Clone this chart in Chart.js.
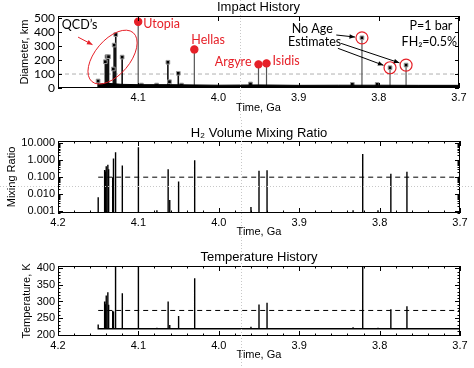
<!DOCTYPE html>
<html>
<head>
<meta charset="utf-8">
<script src="https://cdn.jsdelivr.net/npm/chart.js@4.4.1/dist/chart.umd.min.js"></script>
<style>
body { margin: 0; background: #fff; }
canvas { display: block; }
</style>
</head>
<body>
<canvas id="impactChart" width="474" height="120"></canvas>
<canvas id="mixChart" width="474" height="125"></canvas>
<canvas id="tempChart" width="474" height="123"></canvas>
<script>
// Time axis, Ga (old on the left)
var timeTicks = [4.2, 4.1, 4.0, 3.9, 3.8, 3.7];

// Impact history: dated craters (black squares)
var craterTimes = [4.150, 4.141, 4.139, 4.137, 4.131, 4.130, 4.128, 4.120, 4.096, 4.077, 4.063, 4.061, 4.050, 4.046, 3.960, 3.833, 3.802];
var craterDiam  = [50, 188, 224, 224, 136, 307, 382, 221, 21, 21, 184, 45, 105, 21, 29, 26, 26];
// named basins (red dots)
var basinNames = ["Utopia", "Hellas", "Argyre", "Isidis"];
var basinTimes = [4.100, 4.030, 3.950, 3.940];
var basinDiam  = [474, 276, 169, 176];
// basins with no age estimate
var undatedTimes = [3.821, 3.786, 3.766];
var undatedDiam  = [359, 145, 164];
// the dense floor of small craters
var floorTimes = [4.150, 4.140, 4.120, 4.100, 4.060, 4.000, 3.950, 3.900, 3.850, 3.800, 3.750, 3.700];
var floorDiam  = [26, 34, 26, 24, 24, 20, 22, 19, 20, 20, 19, 19];
var diamLimit = 100;
var diamTicks = [0, 100, 200, 300, 400, 500];

// H2 volume mixing ratio spikes
var mixTimes = [4.150, 4.142, 4.141, 4.140, 4.138, 4.137, 4.132, 4.131, 4.129, 4.128, 4.120, 4.100, 4.077, 4.063, 4.061, 4.050, 4.030, 3.960, 3.950, 3.940, 3.833, 3.821, 3.802, 3.786, 3.766];
var mixPeaks = [0.0065, 0.27, 0.22, 0.45, 0.55, 0.3, 0.1, 1.3, 2.2, 3.0, 0.5, 6.0, 0.0011, 0.3, 0.0045, 0.055, 1.0, 0.0017, 0.24, 0.26, 0.0011, 2.4, 0.0011, 0.16, 0.21];
var mixLimit = 0.1;
var mixTicks = [0.001, 0.01, 0.1, 1, 10];

// surface temperature spikes, K
var tempTimes = [4.150, 4.142, 4.141, 4.140, 4.138, 4.137, 4.132, 4.131, 4.129, 4.128, 4.120, 4.100, 4.077, 4.063, 4.061, 4.050, 4.030, 3.960, 3.950, 3.940, 3.833, 3.821, 3.802, 3.786, 3.766];
var tempPeaks = [231, 300, 292, 318, 328, 290, 272, 270, 420, 420, 325, 420, 221, 300, 229, 256, 370, 224, 291, 296, 222, 420, 221, 277, 286];
var tempBase = 218;
var tempLimit = 273;
var tempTicks = [200, 250, 300, 350, 400];

var crossTime = 3.973;
var red = "rgb(230,32,40)";
var sans = "'Liberation Sans', Arial, sans-serif";
var note = "Lato, 'Liberation Sans', Arial, sans-serif";

function stems(times, values, base) {
    var pts = [];
    times.forEach(function (t, i) {
        pts.push({x: t, y: base}, {x: t, y: values[i]}, {x: t, y: base});
    });
    return pts;
}
function pairs(times, values) {
    return times.map(function (t, i) { return {x: t, y: values[i]}; });
}
function topOnly(size) {
    return function (c) { return c.index % 3 === 1 ? size : 0; };
}

// tick lists [value, length]
var timeMarks = [];
for (var i = 0; i <= 25; i++) timeMarks.push([3.7 + i * 0.02, i % 5 === 0 ? 5 : 2.5]);
var tempMarks = [];
for (var i = 0; i <= 20; i++) tempMarks.push([200 + i * 10, i % 5 === 0 ? 5 : 2.5]);
var logMarks = [];
for (var n = -4; n <= 1; n++) for (var k = 1; k <= 9; k++) logMarks.push([k * Math.pow(10, n), k === 1 ? 5 : 2.5]);
var diamMarks = diamTicks.map(function (v) { return [v, 4]; });

// box round the plot with inward ticks
var frame = {
    id: "frame",
    afterDatasetsDraw: function (chart, args, o) {
        var ctx = chart.ctx, a = chart.chartArea, x = chart.scales.x, y = chart.scales.y;
        ctx.save();
        ctx.strokeStyle = "#000";
        ctx.lineWidth = 1;
        ctx.strokeRect(a.left + 0.5, a.top + 0.5, a.right - a.left - 1, a.bottom - a.top - 1);
        ctx.beginPath();
        (o.x || []).forEach(function (m) {
            var px = Math.round(x.getPixelForValue(m[0])) + 0.5;
            if (px < a.left || px > a.right + 1) return;
            ctx.moveTo(px, a.bottom); ctx.lineTo(px, a.bottom - m[1]);
            ctx.moveTo(px, a.top); ctx.lineTo(px, a.top + m[1]);
        });
        (o.y || []).forEach(function (m) {
            var py = Math.round(y.getPixelForValue(m[0])) + 0.5;
            if (py < a.top || py > a.bottom + 1) return;
            ctx.moveTo(a.left, py); ctx.lineTo(a.left + m[1], py);
            ctx.moveTo(a.right, py); ctx.lineTo(a.right - m[1], py);
        });
        ctx.stroke();
        ctx.restore();
    }
};

// panel title centred over the plot
var panelTitle = {
    id: "panelTitle",
    afterDraw: function (chart, args, o) {
        var ctx = chart.ctx, a = chart.chartArea;
        ctx.save();
        ctx.fillStyle = "#000";
        ctx.font = "13px " + sans;
        ctx.textAlign = "center";
        ctx.textBaseline = "middle";
        ctx.fillText(o.text, (a.left + a.right) / 2, o.y);
        ctx.restore();
    }
};

// grey dotted guide lines that run through the whole figure
var crosshair = {
    id: "crosshair",
    afterDraw: function (chart, args, o) {
        var ctx = chart.ctx;
        ctx.save();
        ctx.strokeStyle = "#c8c8c8";
        ctx.lineWidth = 1;
        ctx.setLineDash([1, 2]);
        ctx.beginPath();
        var px = Math.round(chart.scales.x.getPixelForValue(crossTime)) + 0.5;
        ctx.moveTo(px, 0); ctx.lineTo(px, chart.height);
        if (o.y) {
            var py = Math.round(chart.scales.y.getPixelForValue(o.y)) + 0.5;
            ctx.moveTo(0, py); ctx.lineTo(chart.width, py);
        }
        ctx.stroke();
        ctx.restore();
    }
};

function arrow(ctx, x0, y0, x1, y1) {
    var ang = Math.atan2(y1 - y0, x1 - x0);
    ctx.beginPath();
    ctx.moveTo(x0, y0); ctx.lineTo(x1, y1);
    ctx.stroke();
    ctx.beginPath();
    ctx.moveTo(x1, y1);
    ctx.lineTo(x1 - 6 * Math.cos(ang - 0.4), y1 - 6 * Math.sin(ang - 0.4));
    ctx.lineTo(x1 - 6 * Math.cos(ang + 0.4), y1 - 6 * Math.sin(ang + 0.4));
    ctx.closePath();
    ctx.fill();
}

// labels, ellipse and arrows of the impact panel
var impactNotes = {
    id: "impactNotes",
    afterDatasetsDraw: function (chart) {
        var ctx = chart.ctx, x = chart.scales.x, y = chart.scales.y;
        var X = function (t) { return x.getPixelForValue(t); };
        var Y = function (d) { return y.getPixelForValue(d); };
        ctx.save();
        ctx.textBaseline = "middle";
        ctx.font = "12.5px " + note;

        // basin names
        var offs = [[5, 2, "left"], [-3, -9, "left"], [-7, -2, "right"], [6, -2, "left"]];
        ctx.fillStyle = red;
        basinNames.forEach(function (name, i) {
            ctx.textAlign = offs[i][2];
            ctx.fillText(name, X(basinTimes[i]) + offs[i][0], Y(basinDiam[i]) + offs[i][1]);
        });

        // QCD group
        ctx.strokeStyle = red;
        ctx.lineWidth = 1;
        ctx.beginPath();
        ctx.ellipse(X(4.132), Y(221), 32, 17.5, -0.87, 0, Math.PI * 2);
        ctx.stroke();
        arrow(ctx, X(4.175), Y(364), X(4.157), Y(310));
        ctx.fillStyle = "#000";
        ctx.textAlign = "center";
        ctx.fillText("QCD\u2019s", X(4.173), Y(450));

        // undated basins
        ctx.fillText("No Age", X(3.883), Y(421));
        ctx.fillText("Estimates", X(3.880), Y(329));
        ctx.strokeStyle = "#000";
        var starts = [[3.853, 379, 0], [3.847, 319, 2], [3.851, 284, 1]];
        starts.forEach(function (s) {
            var x0 = X(s[0]), y0 = Y(s[1]);
            var tx = X(undatedTimes[s[2]]), ty = Y(undatedDiam[s[2]]);
            var ang = Math.atan2(ty - y0, tx - x0);
            arrow(ctx, x0, y0, tx - 7 * Math.cos(ang), ty - 7 * Math.sin(ang));
        });

        ctx.fillText("P=1 bar", X(3.735), Y(445));
        ctx.fillText("FH\u2082=0.5%", X(3.737), Y(326));
        ctx.restore();
    }
};

function timeAxis(hideFirst, titlePad) {
    return {
        type: "linear",
        reverse: true,
        min: 3.7,
        max: 4.2,
        afterBuildTicks: function (s) { s.ticks = timeTicks.map(function (v) { return {value: v}; }); },
        afterFit: function (s) { s.height = 32; },
        grid: {display: false, drawTicks: false},
        border: {display: false},
        ticks: {
            padding: 3,
            autoSkip: false,
            maxRotation: 0,
            color: "#000",
            font: {family: sans, size: 11},
            callback: function (v) { return hideFirst && v === 4.2 ? "" : v.toFixed(1); }
        },
        title: {display: true, text: "Time, Ga", color: "#000", font: {family: sans, size: 11}, padding: {top: 0, bottom: titlePad}}
    };
}

function yAxis(cfg) {
    return Object.assign({
        grid: {display: false, drawTicks: false},
        border: {display: false},
        afterFit: function (s) { s.width = cfg.width; },
        afterBuildTicks: function (s) { s.ticks = cfg.list.map(function (v) { return {value: v}; }); },
        ticks: {padding: 3, autoSkip: false, color: "#000", font: {family: cfg.font || sans, size: cfg.size || 11}, callback: cfg.fmt},
        title: {display: true, text: cfg.title, color: "#000", font: {family: sans, size: 11}, padding: {top: 0, bottom: 0}}
    }, cfg.extra);
}

Chart.defaults.animation = false;
Chart.defaults.plugins.legend.display = false;
Chart.defaults.plugins.tooltip.enabled = false;

// Impact History
new Chart(document.getElementById("impactChart"), {
    type: "line",
    data: {
        datasets: [
            {data: pairs(floorTimes, floorDiam), fill: "origin", backgroundColor: "#000", borderColor: "#000", borderWidth: 1, pointRadius: 0, order: 1},
            {data: stems(undatedTimes, undatedDiam, 0), borderColor: "#555", borderWidth: 1.2, pointRadius: topOnly(2.6), pointStyle: "rect",
             pointBackgroundColor: "#000", pointBorderColor: "#999", pointBorderWidth: 1, order: 2},
            {data: pairs(undatedTimes, undatedDiam), showLine: false, pointRadius: 6, pointBorderColor: red, pointBorderWidth: 1.2,
             pointBackgroundColor: "rgba(0,0,0,0)", order: 0},
            {data: stems(basinTimes, basinDiam, 0), borderColor: "#555", borderWidth: 1.2, pointRadius: topOnly(3.6), pointStyle: "circle",
             pointBackgroundColor: red, pointBorderColor: red, order: 3},
            {data: stems(craterTimes, craterDiam, 0), borderColor: "#111", borderWidth: 1.6, pointRadius: topOnly(2.6), pointStyle: "rect",
             pointBackgroundColor: "#000", pointBorderColor: "#999", pointBorderWidth: 1, order: 4},
            {data: [{x: 4.2, y: diamLimit}, {x: 3.7, y: diamLimit}], borderColor: "#b0b0b0", borderWidth: 1, borderDash: [4, 3], pointRadius: 0, order: 9}
        ]
    },
    options: {
        responsive: false,
        layout: {padding: {left: 18, right: 15, top: 16, bottom: 0}},
        scales: {
            x: timeAxis(true, 5.4),
            y: yAxis({width: 40, list: diamTicks, title: "Diameter, km", font: note, size: 12, fmt: function (v) { return v; }, extra: {min: 0, max: 515}})
        },
        plugins: {
            frame: {y: diamMarks, x: timeMarks.filter(function (m) { return m[1] === 5; })},
            panelTitle: {text: "Impact History", y: 7},
            crosshair: {}
        }
    },
    plugins: [frame, impactNotes, panelTitle, crosshair]
});

// H2 mixing ratio
var mixMin = 0.00075;
new Chart(document.getElementById("mixChart"), {
    type: "line",
    data: {
        datasets: [
            {data: stems(mixTimes, mixPeaks, mixMin), borderColor: "#000", borderWidth: 1.4, pointRadius: 0},
            {data: [{x: 4.15, y: mixLimit}, {x: 3.7, y: mixLimit}], borderColor: "#000", borderWidth: 1, borderDash: [5, 4], pointRadius: 0}
        ]
    },
    options: {
        responsive: false,
        layout: {padding: {left: 5, right: 14, top: 21, bottom: 0}},
        scales: {
            x: timeAxis(false, 6.7),
            y: yAxis({width: 53, list: mixTicks, title: "Mixing Ratio", fmt: function (v) { return v.toFixed(3); },
                      extra: {type: "logarithmic", min: mixMin, max: 14}})
        },
        plugins: {
            frame: {x: timeMarks, y: logMarks},
            panelTitle: {text: "H\u2082 Volume Mixing Ratio", y: 13},
            crosshair: {y: 0.03}
        }
    },
    plugins: [frame, panelTitle, crosshair]
});

// Temperature history
var tempLine = [{x: 4.15, y: tempBase}].concat(stems(tempTimes, tempPeaks, tempBase), [{x: 3.7, y: tempBase}]);
new Chart(document.getElementById("tempChart"), {
    type: "line",
    data: {
        datasets: [
            {data: tempLine, borderColor: "#000", borderWidth: 1.4, pointRadius: 0},
            {data: [{x: 4.15, y: tempLimit}, {x: 3.7, y: tempLimit}], borderColor: "#000", borderWidth: 1, borderDash: [5, 4], pointRadius: 0}
        ]
    },
    options: {
        responsive: false,
        layout: {padding: {left: 20, right: 14, top: 21, bottom: 0}},
        scales: {
            x: timeAxis(false, 6.4),
            y: yAxis({width: 38, list: tempTicks, title: "Temperature, K", fmt: function (v) { return v; }, extra: {min: 196, max: 407}})
        },
        plugins: {
            frame: {x: timeMarks, y: tempMarks},
            panelTitle: {text: "Temperature History", y: 12},
            crosshair: {}
        }
    },
    plugins: [frame, panelTitle, crosshair]
});
</script>
</body>
</html>
